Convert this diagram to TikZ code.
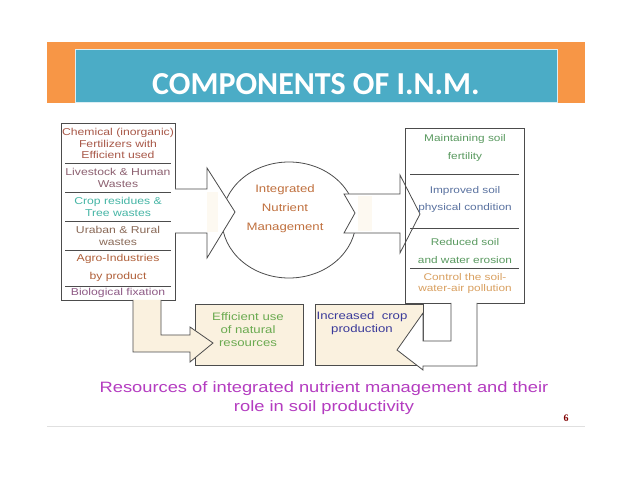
\documentclass[tikz,border=0pt]{standalone}
\usepackage{fontspec}
\usepackage{xcolor}
\setmainfont{Liberation Sans}
\newfontfamily\diagfont[FakeStretch=1.22]{Liberation Sans}
\newfontfamily\titlefont{Carlito}
\newfontfamily\pagefont{Liberation Serif}
\definecolor{bandorange}{HTML}{F79646}
\definecolor{bandblue}{HTML}{4BACC6}
\definecolor{cream}{HTML}{FAF1DF}
\definecolor{chemred}{HTML}{A85848}
\definecolor{mauve}{HTML}{8C6070}
\definecolor{teal}{HTML}{45B5A5}
\definecolor{umber}{HTML}{8A6A58}
\definecolor{rust}{HTML}{B0603A}
\definecolor{plum}{HTML}{8E5A86}
\definecolor{inmtext}{HTML}{C0703E}
\definecolor{leaf}{HTML}{5A9A60}
\definecolor{slate}{HTML}{5A72A0}
\definecolor{peach}{HTML}{D9A060}
\definecolor{grass}{HTML}{6AAA50}
\definecolor{navy}{HTML}{3A3A9A}
\definecolor{magenta}{HTML}{B43CC0}

\begin{document}
\begin{tikzpicture}[x=1pt,y=-1pt,
    every node/.style={inner sep=0pt, align=center},
    lefttxt/.style={font=\diagfont\fontsize{10}{11.5}\selectfont},
    righttxt/.style={font=\diagfont\fontsize{9.7}{11}\selectfont},
    midtxt/.style={font=\diagfont\fontsize{10.8}{13}\selectfont},
    outline/.style={draw=black!70, line width=0.8pt},
    rule/.style={draw=black!70, line width=0.7pt}]
\useasboundingbox (0,0) rectangle (638,478);
\fill[white] (0,0) rectangle (638,478);
% title band
\fill[bandorange] (47,42) rectangle (585,103);
\filldraw[fill=bandblue, draw=white!80!bandblue, line width=1pt] (75,50) rectangle (557,103);
\node[text=white, font=\titlefont\bfseries\fontsize{32}{34}\selectfont] (title) at (316,84) {COMPONENTS OF I.N.M.};
% left box
\draw[outline] (61,123) rectangle (175,300);
\foreach \y in {163,192,221,250,286} \draw[rule] (65,\y) -- (171,\y);
\node[lefttxt, text=chemred] (chem) at (118,143.5) {Chemical (inorganic)\\Fertilizers with\\Efficient used};
\node[lefttxt, text=mauve] (live) at (118,178) {Livestock \& Human\\Wastes};
\node[lefttxt, text=teal] (crop) at (118,207) {Crop residues \&\\Tree wastes};
\node[lefttxt, text=umber] (urban) at (118,236) {Uraban \& Rural\\wastes};
\node[lefttxt, text=rust] (agro) at (118,268) {Agro-Industries\\[6pt]by product};
\node[lefttxt, text=plum] (bio) at (118,293) {Biological fixation};
% centre
\draw[outline] (289,220) ellipse (67 and 58);
\filldraw[outline, fill=white] (175,189) -- (207,189) -- (207,168) -- (235,212) -- (207,258) -- (207,233) -- (175,233);
\fill[cream!45] (207,192) rectangle (218,232);
\filldraw[outline, fill=white] (344,194) -- (400,194) -- (400,175) -- (420,214) -- (400,253) -- (400,233) -- (344,233) -- (355,213) -- cycle;
\fill[cream!45] (358,196) rectangle (372,231);
\node[midtxt, text=inmtext] (inm) at (285,208.5) {Integrated\\[6pt]Nutrient\\[6pt]Management};
% right box
\draw[outline] (405,128) rectangle (524,303);
\foreach \y in {174,228,268} \draw[rule] (410,\y) -- (519,\y);
\node[righttxt, text=leaf] (fert) at (465,148) {Maintaining soil\\[7pt]fertility};
\node[righttxt, text=slate] (phys) at (465,199.5) {Improved soil\\[6pt]physical condition};
\node[righttxt, text=leaf] (eros) at (465,251) {Reduced soil\\[7pt]and water erosion};
\node[righttxt, text=peach] (poll) at (465,283.5) {Control the soil-\\water-air pollution};
% bottom boxes
\filldraw[outline, fill=cream] (195,304) rectangle (303,365);
\filldraw[outline, fill=cream] (315,304) rectangle (423,365);
\filldraw[outline, fill=cream] (133,300) -- (133,352) -- (190,352) -- (190,362) -- (213,343) -- (190,327) -- (190,335) -- (161,335) -- (161,300);
\filldraw[outline, fill=white] (451,303) -- (451,341) -- (423,341) -- (423,313) -- (397,350) -- (423,370) -- (423,366) -- (477,366) -- (477,303);
\node[midtxt, text=grass] (natural) at (248,330) {Efficient use\\of natural\\resources};
\node[midtxt, text=navy] (yield) at (362,323.5) {Increased\ \ crop\\production};
% caption
\node[font=\diagfont\fontsize{15}{19}\selectfont, text=magenta] (caption) at (324,398.5) {Resources of integrated nutrient management and their\\role in soil productivity};
\node[font=\pagefont\bfseries\fontsize{10}{12}\selectfont, text=red!50!black] (page) at (566,418) {6};
\draw[black!12, line width=0.8pt] (47,426) -- (585,426);
\end{tikzpicture}
\end{document}
